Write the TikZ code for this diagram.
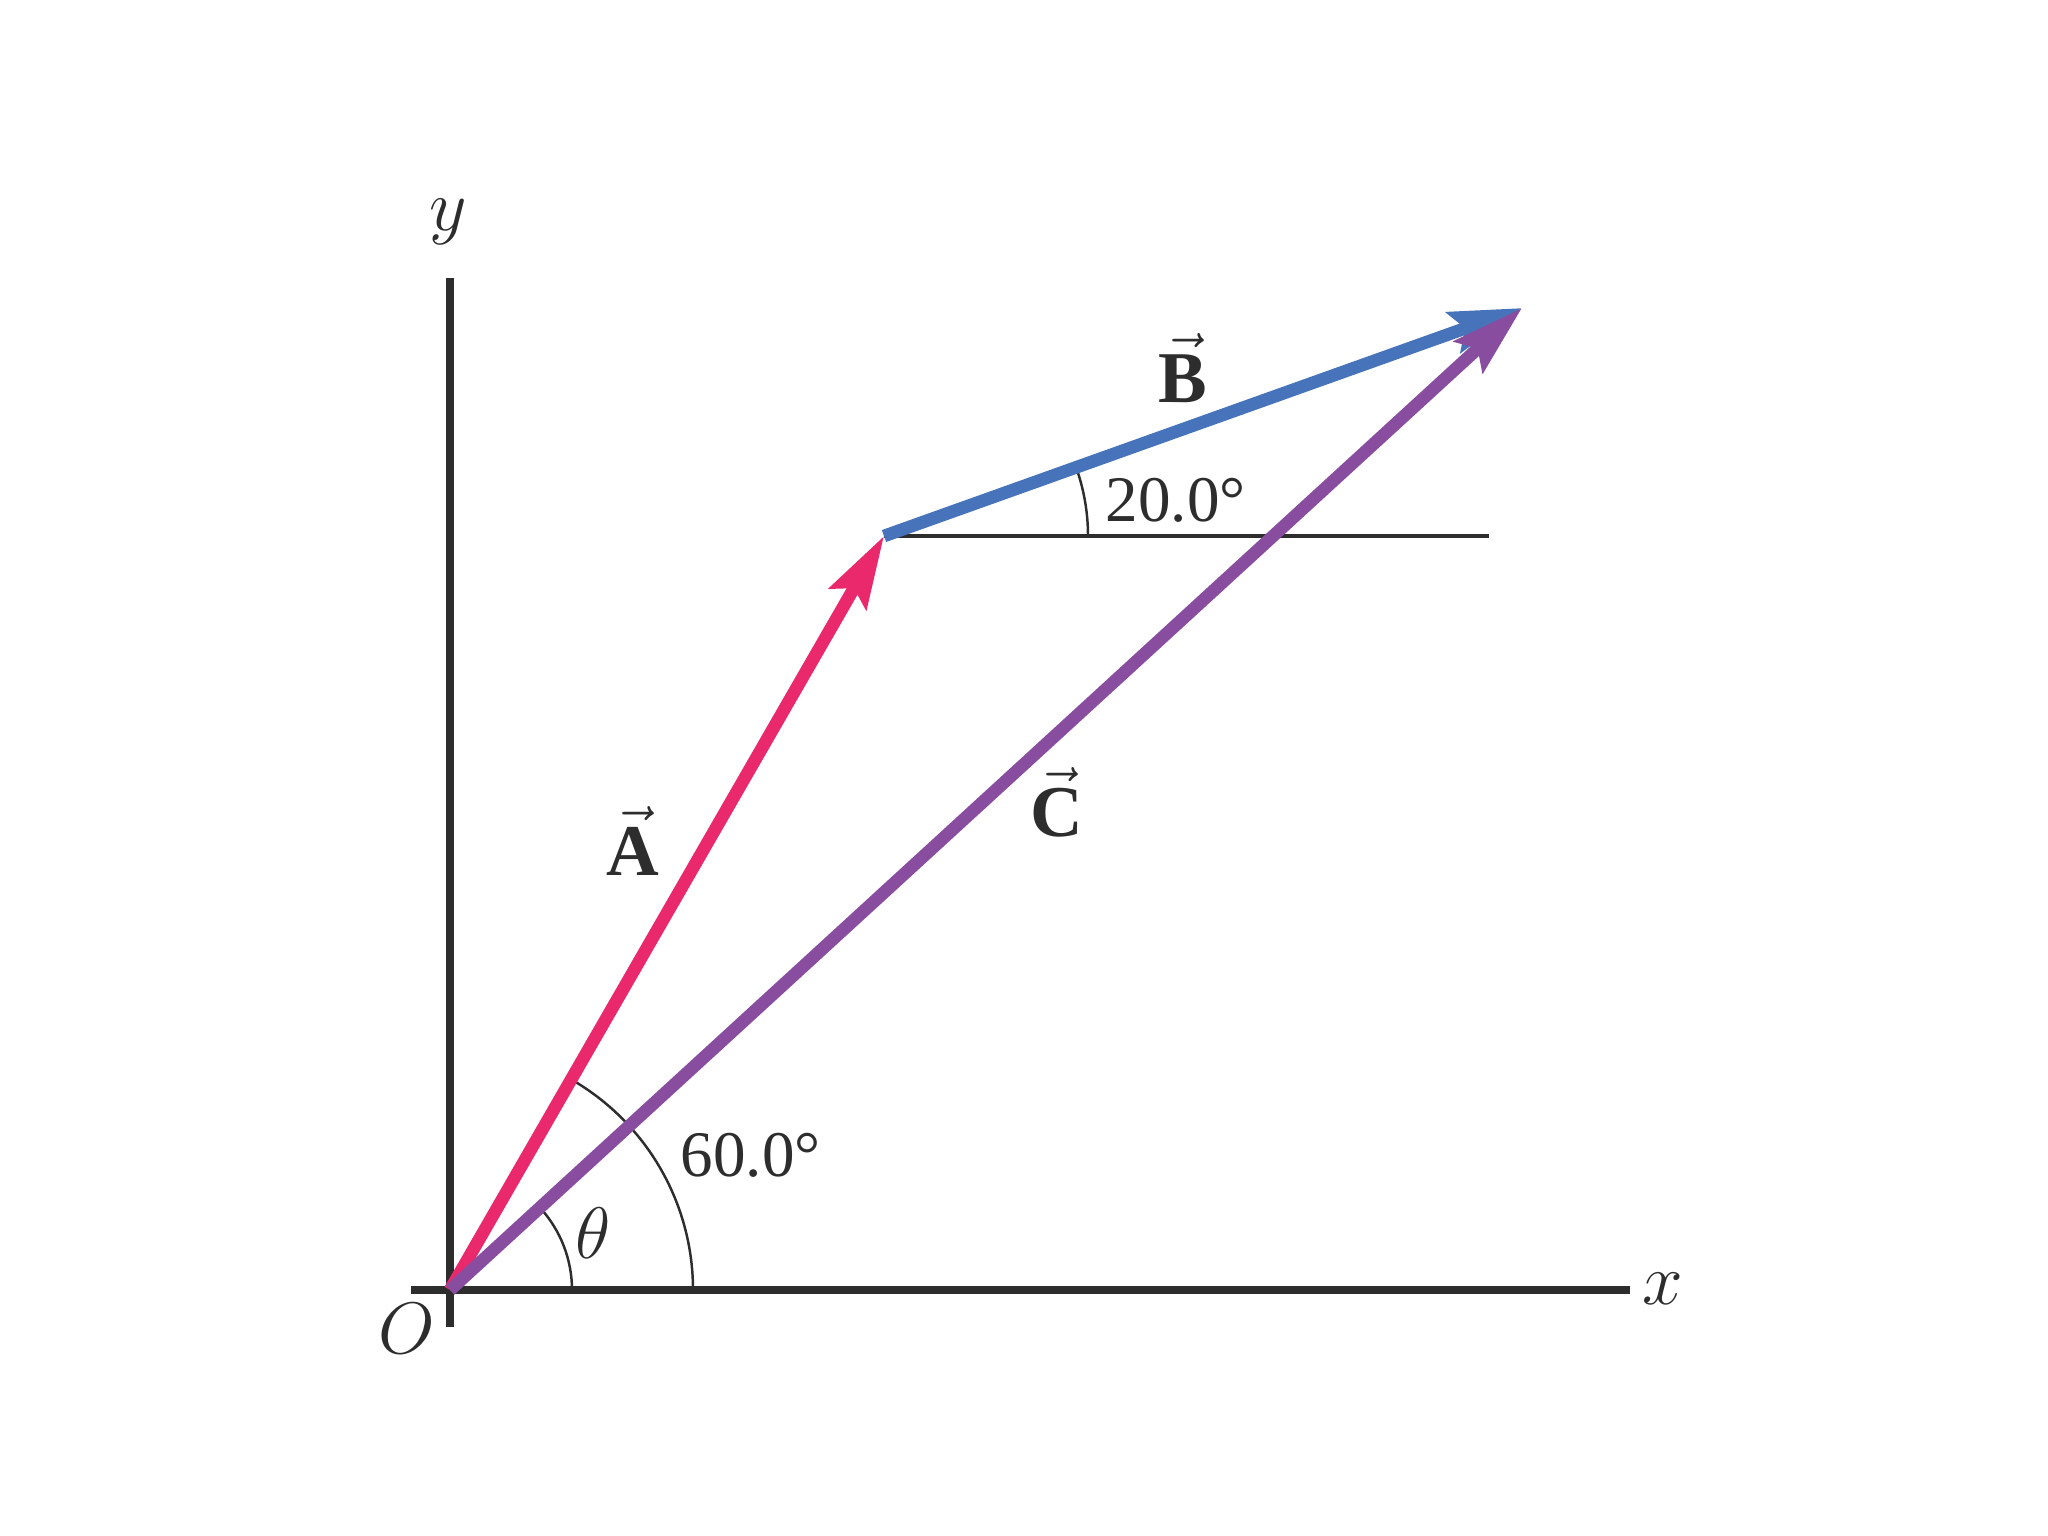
\documentclass[tikz,border=0pt]{standalone}
\usepackage{fontspec}
\setmainfont{Liberation Serif}
\usetikzlibrary{arrows.meta}
\definecolor{vecA}{RGB}{234,40,108}
\definecolor{vecB}{RGB}{70,115,185}
\definecolor{vecC}{RGB}{137,77,160}
\definecolor{axisgray}{RGB}{45,45,45}
\begin{document}
\begin{tikzpicture}[x=0.01cm,y=-0.01cm,
  axisline/.style={draw=axisgray,line width=2.1pt},
  vecline/.style={line width=3.6pt,-{Stealth[length=0.72cm,width=0.42cm,inset=0.12cm]}},
  anglearc/.style={draw=axisgray,line width=0.7pt},
  refline/.style={draw=axisgray,line width=0.9pt},
  lbl/.style={inner sep=0pt,text=axisgray},
  axislbl/.style={lbl,font=\huge},
  anglelbl/.style={lbl,font=\fontsize{18.5pt}{20pt}\selectfont,anchor=base west},
  veclbl/.style={lbl,font=\huge,anchor=base}]
\useasboundingbox (0,0) rectangle (2048,1536);
% key points
\coordinate (O) at (450,1290);
\coordinate (ytop) at (450,278);
\coordinate (ybot) at (450,1327);
\coordinate (xleft) at (411,1290);
\coordinate (xright) at (1630,1290);
\coordinate (Atip) at (884,536);
\coordinate (Btip) at (1522,308);
\coordinate (href) at (1489,536);
% axes
\draw[axisline] (ybot) -- (ytop);
\draw[axisline] (xleft) -- (xright);
% angle arcs
\draw[anglearc] (O) ++(243,0) arc[start angle=0,end angle=-60,radius=243];
\draw[anglearc] (O) ++(122,0) arc[start angle=0,end angle=-42.5,radius=122];
\draw[anglearc] (Atip) ++(204,0) arc[start angle=0,end angle=-20,radius=204];
% horizontal reference
\draw[refline] (Atip) -- (href);
% vectors
\draw[vecline,draw=vecA,fill=vecA] (O) -- (Atip);
\draw[vecline,draw=vecB,fill=vecB] (Atip) -- (Btip);
\draw[vecline,draw=vecC,fill=vecC] (O) -- (Btip);
% labels
\node[axislbl] (ylab) at (448,222) {$y$};
\node[axislbl] (xlab) at (1663,1289) {$x$};
\node[axislbl] (olab) at (407,1329) {$O$};
\node[lbl,font=\huge] (thlab) at (593,1233) {$\theta$};
\node[anglelbl] (a60) at (680,1176) {60.0°};
\node[anglelbl] (a20) at (1105,521) {20.0°};
\node[veclbl] (alab) at (633,875) {$\vec{\mathbf{A}}$};
\node[veclbl] (blab) at (1183,402) {$\vec{\mathbf{B}}$};
\node[veclbl] (clab) at (1057,836) {$\vec{\mathbf{C}}$};
\end{tikzpicture}
\end{document}
